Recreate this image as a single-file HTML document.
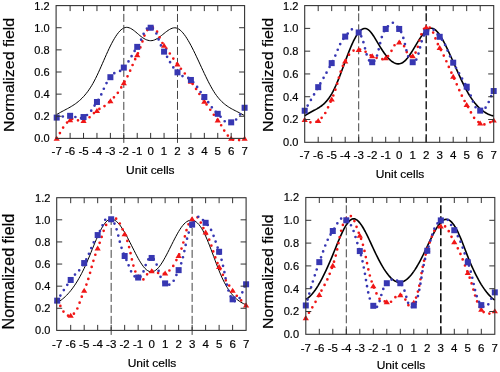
<!DOCTYPE html>
<html><head><meta charset="utf-8"><style>
html,body{margin:0;padding:0;background:#fff;}
svg{display:block;}
text{font-family:"Liberation Sans", Arial, Helvetica, sans-serif;fill:#000;stroke:#000;stroke-width:0.18px;}
</style></head><body>
<svg width="500" height="372" viewBox="0 0 500 372">
<rect width="500" height="372" fill="#fff"/>
<g><polyline points="56.7,114.55 58.04,113.74 59.38,112.97 60.73,112.22 62.07,111.49 63.41,110.78 64.75,110.07 66.09,109.36 67.44,108.64 68.78,107.91 70.12,107.15 71.46,106.35 72.81,105.52 74.15,104.65 75.49,103.72 76.83,102.73 78.17,101.67 79.52,100.53 80.86,99.31 82.2,98.01 83.54,96.6 84.89,95.09 86.23,93.47 87.57,91.73 88.91,89.86 90.25,87.85 91.6,85.71 92.94,83.41 94.28,80.96 95.62,78.36 96.96,75.61 98.31,72.75 99.65,69.8 100.99,66.78 102.33,63.73 103.68,60.66 105.02,57.6 106.36,54.57 107.7,51.61 109.04,48.73 110.39,45.96 111.73,43.32 113.07,40.83 114.41,38.5 115.75,36.34 117.1,34.38 118.44,32.62 119.78,31.09 121.12,29.8 122.47,28.76 123.81,28 125.15,27.52 126.49,27.33 127.83,27.44 129.18,27.79 130.52,28.36 131.86,29.12 133.2,30.02 134.54,31.04 135.89,32.14 137.23,33.29 138.57,34.44 139.91,35.58 141.26,36.65 142.6,37.64 143.94,38.51 145.28,39.26 146.62,39.86 147.97,40.31 149.31,40.6 150.65,40.7 151.99,40.61 153.33,40.33 154.68,39.85 156.02,39.22 157.36,38.46 158.7,37.58 160.05,36.62 161.39,35.59 162.73,34.53 164.07,33.46 165.41,32.39 166.76,31.36 168.1,30.4 169.44,29.54 170.78,28.81 172.12,28.25 173.47,27.9 174.81,27.79 176.15,27.95 177.49,28.41 178.84,29.14 180.18,30.13 181.52,31.37 182.86,32.82 184.2,34.49 185.55,36.35 186.89,38.39 188.23,40.58 189.57,42.92 190.91,45.39 192.26,47.96 193.6,50.63 194.94,53.37 196.28,56.18 197.62,59.04 198.97,61.93 200.31,64.83 201.65,67.74 202.99,70.63 204.34,73.49 205.68,76.31 207.02,79.07 208.36,81.75 209.7,84.34 211.05,86.82 212.39,89.18 213.73,91.4 215.07,93.47 216.42,95.38 217.76,97.13 219.1,98.75 220.44,100.23 221.78,101.6 223.13,102.85 224.47,104 225.81,105.05 227.15,106.03 228.49,106.93 229.84,107.77 231.18,108.55 232.52,109.3 233.86,110.01 235.21,110.7 236.55,111.37 237.89,112.04 239.23,112.72 240.57,113.41 241.92,114.13 243.26,114.89 244.6,115.69" fill="none" stroke="#000" stroke-width="1.0" stroke-linejoin="round"/><line x1="123.81" y1="142.9" x2="123.81" y2="5.6" stroke="#444" stroke-width="1.0" stroke-dasharray="8 3"/><line x1="177.49" y1="142.9" x2="177.49" y2="5.6" stroke="#444" stroke-width="1.0" stroke-dasharray="8 3"/><path d="M56.7,138.4C60.06,133.81 63.41,124.46 70.12,120.03C76.83,115.6 76.83,123.04 83.54,120.69C90.25,118.34 90.25,115.55 96.96,110.62C103.68,105.7 103.68,107.88 110.39,100.99C117.1,94.11 117.1,94.6 123.81,83.07C130.52,71.53 130.52,68.68 137.23,54.85C143.94,41.01 143.94,30.08 150.65,27.73C157.36,25.38 157.36,36.31 164.07,45.44C170.78,54.57 170.78,55.23 177.49,64.25C184.2,73.27 184.2,72.25 190.91,81.52C197.62,90.79 197.62,91.67 204.34,101.33C211.05,110.98 211.05,110.87 217.76,120.14C224.47,129.41 224.47,133.84 231.18,138.4C237.89,142.97 241.24,138.4 244.6,138.4" fill="none" stroke="#f01616" stroke-width="2.7" stroke-linecap="round" stroke-dasharray="0 6.3"/><path d="M56.7,117.59C60.06,117.15 63.41,115.96 70.12,115.82C76.83,115.69 76.83,120.5 83.54,117.04C90.25,113.58 90.25,111.95 96.96,101.99C103.68,92.03 103.68,85.81 110.39,77.2C117.1,68.6 117.1,75.15 123.81,67.57C130.52,59.99 130.52,56.84 137.23,46.88C143.94,36.92 143.94,26.54 150.65,27.73C157.36,28.92 157.36,40.49 164.07,51.64C170.78,62.79 170.78,65.25 177.49,72.33C184.2,79.41 184.2,73.8 190.91,79.97C197.62,86.14 197.62,88.54 204.34,97.01C211.05,105.48 211.05,107.5 217.76,113.83C224.47,120.17 224.47,123.88 231.18,122.35C237.89,120.83 241.24,111.4 244.6,107.75" fill="none" stroke="#3737b2" stroke-width="2.7" stroke-linecap="round" stroke-dasharray="0 6.3"/><path d="M56.7,135.7L59.8,140.7L53.6,140.7Z" fill="#f01616"/><path d="M70.12,117.33L73.22,122.33L67.02,122.33Z" fill="#f01616"/><path d="M83.54,117.99L86.64,122.99L80.44,122.99Z" fill="#f01616"/><path d="M96.96,107.92L100.06,112.92L93.86,112.92Z" fill="#f01616"/><path d="M110.39,98.29L113.49,103.29L107.29,103.29Z" fill="#f01616"/><path d="M123.81,80.37L126.91,85.37L120.71,85.37Z" fill="#f01616"/><path d="M137.23,52.15L140.33,57.15L134.13,57.15Z" fill="#f01616"/><path d="M150.65,25.03L153.75,30.03L147.55,30.03Z" fill="#f01616"/><path d="M164.07,42.74L167.17,47.74L160.97,47.74Z" fill="#f01616"/><path d="M177.49,61.55L180.59,66.55L174.39,66.55Z" fill="#f01616"/><path d="M190.91,78.82L194.01,83.82L187.81,83.82Z" fill="#f01616"/><path d="M204.34,98.63L207.44,103.63L201.24,103.63Z" fill="#f01616"/><path d="M217.76,117.44L220.86,122.44L214.66,122.44Z" fill="#f01616"/><path d="M231.18,135.7L234.28,140.7L228.08,140.7Z" fill="#f01616"/><path d="M244.6,135.7L247.7,140.7L241.5,140.7Z" fill="#f01616"/><rect x="53.7" y="114.59" width="6" height="6" fill="#3737b2"/><rect x="67.12" y="112.82" width="6" height="6" fill="#3737b2"/><rect x="80.54" y="114.04" width="6" height="6" fill="#3737b2"/><rect x="93.96" y="98.99" width="6" height="6" fill="#3737b2"/><rect x="107.39" y="74.2" width="6" height="6" fill="#3737b2"/><rect x="120.81" y="64.57" width="6" height="6" fill="#3737b2"/><rect x="134.23" y="43.88" width="6" height="6" fill="#3737b2"/><rect x="147.65" y="24.73" width="6" height="6" fill="#3737b2"/><rect x="161.07" y="48.64" width="6" height="6" fill="#3737b2"/><rect x="174.49" y="69.33" width="6" height="6" fill="#3737b2"/><rect x="187.91" y="76.97" width="6" height="6" fill="#3737b2"/><rect x="201.34" y="94.01" width="6" height="6" fill="#3737b2"/><rect x="214.76" y="110.83" width="6" height="6" fill="#3737b2"/><rect x="228.18" y="119.35" width="6" height="6" fill="#3737b2"/><rect x="241.6" y="104.75" width="6" height="6" fill="#3737b2"/><path d="M56.1,116.27h5.5M244.6,116.27h-5.5M56.1,94.13h5.5M244.6,94.13h-5.5M56.1,72h5.5M244.6,72h-5.5M56.1,49.87h5.5M244.6,49.87h-5.5M56.1,27.73h5.5M244.6,27.73h-5.5M70.12,138.4v-5.5M70.12,5.6v5.5M83.54,138.4v-5.5M83.54,5.6v5.5M96.96,138.4v-5.5M96.96,5.6v5.5M110.39,138.4v-5.5M110.39,5.6v5.5M123.81,138.4v-5.5M123.81,5.6v5.5M137.23,138.4v-5.5M137.23,5.6v5.5M150.65,138.4v-5.5M150.65,5.6v5.5M164.07,138.4v-5.5M164.07,5.6v5.5M177.49,138.4v-5.5M177.49,5.6v5.5M190.91,138.4v-5.5M190.91,5.6v5.5M204.34,138.4v-5.5M204.34,5.6v5.5M217.76,138.4v-5.5M217.76,5.6v5.5M231.18,138.4v-5.5M231.18,5.6v5.5" stroke="#333" stroke-width="1" fill="none"/><rect x="56.1" y="5.6" width="188.5" height="132.8" fill="none" stroke="#333" stroke-width="1.1"/><text x="49.6" y="142.3" text-anchor="end" font-size="11">0.0</text><text x="49.6" y="120.17" text-anchor="end" font-size="11">0.2</text><text x="49.6" y="98.03" text-anchor="end" font-size="11">0.4</text><text x="49.6" y="75.9" text-anchor="end" font-size="11">0.6</text><text x="49.6" y="53.77" text-anchor="end" font-size="11">0.8</text><text x="49.6" y="31.63" text-anchor="end" font-size="11">1.0</text><text x="49.6" y="9.5" text-anchor="end" font-size="11">1.2</text><text x="56.7" y="155.4" text-anchor="middle" font-size="11.5">-7</text><text x="70.12" y="155.4" text-anchor="middle" font-size="11.5">-6</text><text x="83.54" y="155.4" text-anchor="middle" font-size="11.5">-5</text><text x="96.96" y="155.4" text-anchor="middle" font-size="11.5">-4</text><text x="110.39" y="155.4" text-anchor="middle" font-size="11.5">-3</text><text x="123.81" y="155.4" text-anchor="middle" font-size="11.5">-2</text><text x="137.23" y="155.4" text-anchor="middle" font-size="11.5">-1</text><text x="150.65" y="155.4" text-anchor="middle" font-size="11.5">0</text><text x="164.07" y="155.4" text-anchor="middle" font-size="11.5">1</text><text x="177.49" y="155.4" text-anchor="middle" font-size="11.5">2</text><text x="190.91" y="155.4" text-anchor="middle" font-size="11.5">3</text><text x="204.34" y="155.4" text-anchor="middle" font-size="11.5">4</text><text x="217.76" y="155.4" text-anchor="middle" font-size="11.5">5</text><text x="231.18" y="155.4" text-anchor="middle" font-size="11.5">6</text><text x="244.6" y="155.4" text-anchor="middle" font-size="11.5">7</text><text x="150.3" y="174" text-anchor="middle" font-size="11.4" textLength="48.6" lengthAdjust="spacingAndGlyphs">Unit cells</text><text transform="translate(13.7,74.95) rotate(-90)" text-anchor="middle" font-size="15.3" textLength="114.3" lengthAdjust="spacingAndGlyphs">Normalized field</text></g>
<g><polyline points="304.7,115.93 306.05,114.94 307.4,114.05 308.75,113.22 310.1,112.45 311.45,111.72 312.8,111.02 314.15,110.31 315.5,109.6 316.85,108.85 318.2,108.06 319.55,107.21 320.9,106.27 322.25,105.24 323.6,104.09 324.95,102.81 326.3,101.38 327.65,99.78 329,98 330.35,96.02 331.7,93.82 333.05,91.39 334.4,88.7 335.75,85.78 337.1,82.66 338.45,79.36 339.8,75.93 341.15,72.39 342.5,68.78 343.85,65.14 345.2,61.49 346.55,57.88 347.9,54.33 349.25,50.89 350.6,47.57 351.95,44.43 353.3,41.48 354.65,38.77 356,36.33 357.35,34.19 358.7,32.36 360.05,30.86 361.4,29.71 362.75,28.92 364.1,28.49 365.45,28.46 366.8,28.82 368.15,29.59 369.5,30.75 370.85,32.23 372.2,33.98 373.55,35.94 374.9,38.07 376.25,40.31 377.6,42.6 378.95,44.88 380.3,47.12 381.65,49.26 383,51.3 384.35,53.23 385.7,55.03 387.05,56.69 388.4,58.21 389.75,59.58 391.1,60.77 392.45,61.79 393.8,62.62 395.15,63.25 396.5,63.67 397.85,63.86 399.2,63.83 400.55,63.55 401.9,63.02 403.25,62.22 404.6,61.15 405.95,59.81 407.3,58.25 408.65,56.49 410,54.56 411.35,52.5 412.7,50.34 414.05,48.11 415.4,45.85 416.75,43.6 418.1,41.37 419.45,39.21 420.8,37.15 422.15,35.22 423.5,33.46 424.85,31.89 426.2,30.56 427.55,29.49 428.9,28.72 430.25,28.27 431.6,28.19 432.95,28.5 434.3,29.16 435.65,30.17 437,31.48 438.35,33.07 439.7,34.93 441.05,37.01 442.4,39.29 443.75,41.75 445.1,44.36 446.45,47.1 447.8,49.93 449.15,52.83 450.5,55.78 451.85,58.78 453.2,61.81 454.55,64.86 455.9,67.9 457.25,70.93 458.6,73.93 459.95,76.89 461.3,79.79 462.65,82.62 464,85.37 465.35,88.02 466.7,90.56 468.05,92.97 469.4,95.24 470.75,97.38 472.1,99.38 473.45,101.24 474.8,102.98 476.15,104.6 477.5,106.09 478.85,107.47 480.2,108.74 481.55,109.9 482.9,110.95 484.25,111.89 485.6,112.74 486.95,113.5 488.3,114.16 489.65,114.74 491,115.23 492.35,115.64 493.7,115.98" fill="none" stroke="#000" stroke-width="1.6" stroke-linejoin="round"/><line x1="358.7" y1="142.3" x2="358.7" y2="5.6" stroke="#444" stroke-width="1.0" stroke-dasharray="8 3"/><line x1="426.2" y1="142.3" x2="426.2" y2="5.6" stroke="#111" stroke-width="1.4" stroke-dasharray="8 3"/><path d="M304.7,119.74C308.07,119.97 311.45,125.78 318.2,120.66C324.95,115.53 324.95,114.11 331.7,99.24C338.45,84.37 338.45,73.55 345.2,61.19C351.95,48.83 351.95,51.11 358.7,49.8C365.45,48.49 365.45,53.93 372.2,55.95C378.95,57.97 378.95,61.33 385.7,57.89C392.45,54.44 392.45,42.68 399.2,42.17C405.95,41.65 405.95,59.57 412.7,55.84C419.45,52.11 419.45,29.27 426.2,27.24C432.95,25.22 432.95,35.42 439.7,47.75C446.45,60.08 446.45,62.33 453.2,76.57C459.95,90.81 459.95,93.06 466.7,104.71C473.45,116.36 473.45,119.26 480.2,123.16C486.95,127.06 490.32,121.03 493.7,120.31" fill="none" stroke="#f01616" stroke-width="2.7" stroke-linecap="round" stroke-dasharray="0 6.3"/><path d="M304.7,110.75C308.07,104.85 311.45,99.07 318.2,87.16C324.95,75.26 324.95,75.77 331.7,63.13C338.45,50.48 338.45,44.25 345.2,36.59C351.95,28.92 351.95,26.08 358.7,32.48C365.45,38.89 365.45,63.1 372.2,62.22C378.95,61.33 378.95,37.27 385.7,28.95C392.45,20.64 392.45,20.64 399.2,28.95C405.95,37.27 405.95,61.36 412.7,62.22C419.45,63.07 419.45,38.72 426.2,32.37C432.95,26.02 432.95,29.24 439.7,36.81C446.45,44.39 446.45,50.2 453.2,62.67C459.95,75.15 459.95,74.72 466.7,86.71C473.45,98.7 473.45,109.55 480.2,110.63C486.95,111.71 490.32,95.94 493.7,91.04" fill="none" stroke="#3737b2" stroke-width="2.7" stroke-linecap="round" stroke-dasharray="0 6.3"/><path d="M304.7,117.04L307.8,122.04L301.6,122.04Z" fill="#f01616"/><path d="M318.2,117.96L321.3,122.96L315.1,122.96Z" fill="#f01616"/><path d="M331.7,96.54L334.8,101.54L328.6,101.54Z" fill="#f01616"/><path d="M345.2,58.49L348.3,63.49L342.1,63.49Z" fill="#f01616"/><path d="M358.7,47.1L361.8,52.1L355.6,52.1Z" fill="#f01616"/><path d="M372.2,53.25L375.3,58.25L369.1,58.25Z" fill="#f01616"/><path d="M385.7,55.19L388.8,60.19L382.6,60.19Z" fill="#f01616"/><path d="M399.2,39.47L402.3,44.47L396.1,44.47Z" fill="#f01616"/><path d="M412.7,53.14L415.8,58.14L409.6,58.14Z" fill="#f01616"/><path d="M426.2,24.54L429.3,29.54L423.1,29.54Z" fill="#f01616"/><path d="M439.7,45.05L442.8,50.05L436.6,50.05Z" fill="#f01616"/><path d="M453.2,73.87L456.3,78.87L450.1,78.87Z" fill="#f01616"/><path d="M466.7,102.01L469.8,107.01L463.6,107.01Z" fill="#f01616"/><path d="M480.2,120.46L483.3,125.46L477.1,125.46Z" fill="#f01616"/><path d="M493.7,117.61L496.8,122.61L490.6,122.61Z" fill="#f01616"/><rect x="301.7" y="107.75" width="6" height="6" fill="#3737b2"/><rect x="315.2" y="84.16" width="6" height="6" fill="#3737b2"/><rect x="328.7" y="60.13" width="6" height="6" fill="#3737b2"/><rect x="342.2" y="33.59" width="6" height="6" fill="#3737b2"/><rect x="355.7" y="29.48" width="6" height="6" fill="#3737b2"/><rect x="369.2" y="59.22" width="6" height="6" fill="#3737b2"/><rect x="382.7" y="25.95" width="6" height="6" fill="#3737b2"/><rect x="396.2" y="25.95" width="6" height="6" fill="#3737b2"/><rect x="409.7" y="59.22" width="6" height="6" fill="#3737b2"/><rect x="423.2" y="29.37" width="6" height="6" fill="#3737b2"/><rect x="436.7" y="33.81" width="6" height="6" fill="#3737b2"/><rect x="450.2" y="59.67" width="6" height="6" fill="#3737b2"/><rect x="463.7" y="83.71" width="6" height="6" fill="#3737b2"/><rect x="477.2" y="107.63" width="6" height="6" fill="#3737b2"/><rect x="490.7" y="88.04" width="6" height="6" fill="#3737b2"/><path d="M304.7,119.52h5.5M493.7,119.52h-5.5M304.7,96.73h5.5M493.7,96.73h-5.5M304.7,73.95h5.5M493.7,73.95h-5.5M304.7,51.17h5.5M493.7,51.17h-5.5M304.7,28.38h5.5M493.7,28.38h-5.5M318.2,142.3v-5.5M318.2,5.6v5.5M331.7,142.3v-5.5M331.7,5.6v5.5M345.2,142.3v-5.5M345.2,5.6v5.5M358.7,142.3v-5.5M358.7,5.6v5.5M372.2,142.3v-5.5M372.2,5.6v5.5M385.7,142.3v-5.5M385.7,5.6v5.5M399.2,142.3v-5.5M399.2,5.6v5.5M412.7,142.3v-5.5M412.7,5.6v5.5M426.2,142.3v-5.5M426.2,5.6v5.5M439.7,142.3v-5.5M439.7,5.6v5.5M453.2,142.3v-5.5M453.2,5.6v5.5M466.7,142.3v-5.5M466.7,5.6v5.5M480.2,142.3v-5.5M480.2,5.6v5.5" stroke="#333" stroke-width="1" fill="none"/><rect x="304.7" y="5.6" width="189" height="136.7" fill="none" stroke="#333" stroke-width="1.1"/><text x="298.4" y="146.2" text-anchor="end" font-size="11">0.0</text><text x="298.4" y="123.42" text-anchor="end" font-size="11">0.2</text><text x="298.4" y="100.63" text-anchor="end" font-size="11">0.4</text><text x="298.4" y="77.85" text-anchor="end" font-size="11">0.6</text><text x="298.4" y="55.07" text-anchor="end" font-size="11">0.8</text><text x="298.4" y="32.28" text-anchor="end" font-size="11">1.0</text><text x="298.4" y="9.5" text-anchor="end" font-size="11">1.2</text><text x="304.7" y="159.1" text-anchor="middle" font-size="11.5">-7</text><text x="318.2" y="159.1" text-anchor="middle" font-size="11.5">-6</text><text x="331.7" y="159.1" text-anchor="middle" font-size="11.5">-5</text><text x="345.2" y="159.1" text-anchor="middle" font-size="11.5">-4</text><text x="358.7" y="159.1" text-anchor="middle" font-size="11.5">-3</text><text x="372.2" y="159.1" text-anchor="middle" font-size="11.5">-2</text><text x="385.7" y="159.1" text-anchor="middle" font-size="11.5">-1</text><text x="399.2" y="159.1" text-anchor="middle" font-size="11.5">0</text><text x="412.7" y="159.1" text-anchor="middle" font-size="11.5">1</text><text x="426.2" y="159.1" text-anchor="middle" font-size="11.5">2</text><text x="439.7" y="159.1" text-anchor="middle" font-size="11.5">3</text><text x="453.2" y="159.1" text-anchor="middle" font-size="11.5">4</text><text x="466.7" y="159.1" text-anchor="middle" font-size="11.5">5</text><text x="480.2" y="159.1" text-anchor="middle" font-size="11.5">6</text><text x="493.7" y="159.1" text-anchor="middle" font-size="11.5">7</text><text x="400" y="178.4" text-anchor="middle" font-size="11.4" textLength="48.6" lengthAdjust="spacingAndGlyphs">Unit cells</text><text transform="translate(272.5,74.95) rotate(-90)" text-anchor="middle" font-size="14.6" textLength="114.3" lengthAdjust="spacingAndGlyphs">Normalized field</text></g>
<g><polyline points="57.2,302.62 58.55,301.83 59.9,300.95 61.25,299.99 62.6,298.94 63.95,297.81 65.3,296.58 66.65,295.25 67.99,293.83 69.34,292.31 70.69,290.68 72.04,288.95 73.39,287.12 74.74,285.17 76.09,283.11 77.44,280.94 78.79,278.65 80.14,276.24 81.49,273.71 82.84,271.05 84.19,268.27 85.53,265.35 86.88,262.31 88.23,259.14 89.58,255.89 90.93,252.58 92.28,249.24 93.63,245.92 94.98,242.65 96.33,239.45 97.68,236.37 99.03,233.43 100.38,230.68 101.73,228.14 103.08,225.85 104.42,223.84 105.77,222.14 107.12,220.8 108.47,219.84 109.82,219.27 111.17,219.06 112.52,219.21 113.87,219.67 115.22,220.44 116.57,221.49 117.92,222.8 119.27,224.34 120.62,226.1 121.97,228.04 123.31,230.16 124.66,232.43 126.01,234.83 127.36,237.33 128.71,239.91 130.06,242.55 131.41,245.24 132.76,247.93 134.11,250.62 135.46,253.27 136.81,255.85 138.16,258.34 139.51,260.7 140.86,262.9 142.21,264.92 143.55,266.73 144.9,268.29 146.25,269.59 147.6,270.58 148.95,271.28 150.3,271.68 151.65,271.77 153,271.56 154.35,271.05 155.7,270.23 157.05,269.11 158.4,267.71 159.75,266.05 161.09,264.17 162.44,262.09 163.79,259.83 165.14,257.43 166.49,254.92 167.84,252.32 169.19,249.65 170.54,246.95 171.89,244.24 173.24,241.55 174.59,238.9 175.94,236.34 177.29,233.87 178.64,231.53 179.98,229.35 181.33,227.36 182.68,225.57 184.03,224.03 185.38,222.73 186.73,221.7 188.08,220.93 189.43,220.42 190.78,220.17 192.13,220.2 193.48,220.51 194.83,221.09 196.18,221.95 197.53,223.1 198.88,224.53 200.22,226.26 201.57,228.28 202.92,230.6 204.27,233.21 205.62,236.08 206.97,239.16 208.32,242.43 209.67,245.85 211.02,249.38 212.37,252.98 213.72,256.61 215.07,260.25 216.42,263.85 217.76,267.38 219.11,270.79 220.46,274.06 221.81,277.14 223.16,280.02 224.51,282.7 225.86,285.19 227.21,287.5 228.56,289.62 229.91,291.58 231.26,293.38 232.61,295.03 233.96,296.52 235.31,297.89 236.65,299.12 238,300.23 239.35,301.22 240.7,302.11 242.05,302.89 243.4,303.59 244.75,304.2 246.1,304.74" fill="none" stroke="#000" stroke-width="1.0" stroke-linejoin="round"/><line x1="111.17" y1="334.9" x2="111.17" y2="197.7" stroke="#444" stroke-width="1.0" stroke-dasharray="8 3"/><line x1="192.13" y1="334.9" x2="192.13" y2="197.7" stroke="#444" stroke-width="1.0" stroke-dasharray="8 3"/><path d="M57.2,300.54C60.57,304.27 63.95,317.99 70.69,315.47C77.44,312.96 77.44,307.29 84.19,290.48C90.93,273.67 90.93,265.9 97.68,248.24C104.43,230.57 104.43,223.38 111.17,219.82C117.92,216.25 117.92,219.73 124.66,233.97C131.41,248.21 131.41,267.51 138.16,276.77C144.9,286.03 144.9,271.93 151.65,271.02C158.4,270.1 158.4,276.96 165.14,273.12C171.89,269.28 171.89,269.19 178.64,255.65C185.38,242.1 185.38,224.77 192.13,218.93C198.88,213.1 198.88,220.34 205.62,232.31C212.37,244.28 212.37,252.3 219.11,266.81C225.86,281.33 225.86,280.8 232.61,290.37C239.35,299.93 242.73,301.4 246.1,305.08" fill="none" stroke="#f01616" stroke-width="2.7" stroke-linecap="round" stroke-dasharray="0 6.3"/><path d="M57.2,300.65C60.57,295.48 63.95,289.37 70.69,279.97C77.44,270.57 77.44,274.28 84.19,263.05C90.93,251.83 90.93,246.02 97.68,235.08C104.43,224.13 104.43,214.04 111.17,219.26C117.92,224.49 117.92,241.41 124.66,255.98C131.41,270.55 131.41,277.04 138.16,277.54C144.9,278.04 144.9,256.5 151.65,257.97C158.4,259.43 158.4,280.36 165.14,283.4C171.89,286.44 171.89,284.84 178.64,270.13C185.38,255.42 185.38,236.4 192.13,224.57C198.88,212.74 198.88,216 205.62,222.8C212.37,229.6 212.37,232.64 219.11,251.78C225.86,270.91 225.86,291.2 232.61,299.33C239.35,307.45 242.73,288.05 246.1,284.29" fill="none" stroke="#3737b2" stroke-width="2.7" stroke-linecap="round" stroke-dasharray="0 6.3"/><path d="M57.2,297.84L60.3,302.84L54.1,302.84Z" fill="#f01616"/><path d="M70.69,312.77L73.79,317.77L67.59,317.77Z" fill="#f01616"/><path d="M84.19,287.78L87.29,292.78L81.09,292.78Z" fill="#f01616"/><path d="M97.68,245.54L100.78,250.54L94.58,250.54Z" fill="#f01616"/><path d="M111.17,217.12L114.27,222.12L108.07,222.12Z" fill="#f01616"/><path d="M124.66,231.27L127.76,236.27L121.56,236.27Z" fill="#f01616"/><path d="M138.16,274.07L141.26,279.07L135.06,279.07Z" fill="#f01616"/><path d="M151.65,268.32L154.75,273.32L148.55,273.32Z" fill="#f01616"/><path d="M165.14,270.42L168.24,275.42L162.04,275.42Z" fill="#f01616"/><path d="M178.64,252.95L181.74,257.95L175.54,257.95Z" fill="#f01616"/><path d="M192.13,216.23L195.23,221.23L189.03,221.23Z" fill="#f01616"/><path d="M205.62,229.61L208.72,234.61L202.52,234.61Z" fill="#f01616"/><path d="M219.11,264.11L222.21,269.11L216.01,269.11Z" fill="#f01616"/><path d="M232.61,287.67L235.71,292.67L229.51,292.67Z" fill="#f01616"/><path d="M246.1,302.38L249.2,307.38L243,307.38Z" fill="#f01616"/><rect x="54.2" y="297.65" width="6" height="6" fill="#3737b2"/><rect x="67.69" y="276.97" width="6" height="6" fill="#3737b2"/><rect x="81.19" y="260.05" width="6" height="6" fill="#3737b2"/><rect x="94.68" y="232.08" width="6" height="6" fill="#3737b2"/><rect x="108.17" y="216.26" width="6" height="6" fill="#3737b2"/><rect x="121.66" y="252.98" width="6" height="6" fill="#3737b2"/><rect x="135.16" y="274.54" width="6" height="6" fill="#3737b2"/><rect x="148.65" y="254.97" width="6" height="6" fill="#3737b2"/><rect x="162.14" y="280.4" width="6" height="6" fill="#3737b2"/><rect x="175.64" y="267.13" width="6" height="6" fill="#3737b2"/><rect x="189.13" y="221.57" width="6" height="6" fill="#3737b2"/><rect x="202.62" y="219.8" width="6" height="6" fill="#3737b2"/><rect x="216.11" y="248.78" width="6" height="6" fill="#3737b2"/><rect x="229.61" y="296.33" width="6" height="6" fill="#3737b2"/><rect x="243.1" y="281.29" width="6" height="6" fill="#3737b2"/><path d="M56.7,308.28h5.5M246.1,308.28h-5.5M56.7,286.17h5.5M246.1,286.17h-5.5M56.7,264.05h5.5M246.1,264.05h-5.5M56.7,241.93h5.5M246.1,241.93h-5.5M56.7,219.82h5.5M246.1,219.82h-5.5M70.69,330.4v-5.5M70.69,197.7v5.5M84.19,330.4v-5.5M84.19,197.7v5.5M97.68,330.4v-5.5M97.68,197.7v5.5M111.17,330.4v-5.5M111.17,197.7v5.5M124.66,330.4v-5.5M124.66,197.7v5.5M138.16,330.4v-5.5M138.16,197.7v5.5M151.65,330.4v-5.5M151.65,197.7v5.5M165.14,330.4v-5.5M165.14,197.7v5.5M178.64,330.4v-5.5M178.64,197.7v5.5M192.13,330.4v-5.5M192.13,197.7v5.5M205.62,330.4v-5.5M205.62,197.7v5.5M219.11,330.4v-5.5M219.11,197.7v5.5M232.61,330.4v-5.5M232.61,197.7v5.5" stroke="#333" stroke-width="1" fill="none"/><rect x="56.7" y="197.7" width="189.4" height="132.7" fill="none" stroke="#333" stroke-width="1.1"/><text x="50.4" y="334.3" text-anchor="end" font-size="11">0.0</text><text x="50.4" y="312.18" text-anchor="end" font-size="11">0.2</text><text x="50.4" y="290.07" text-anchor="end" font-size="11">0.4</text><text x="50.4" y="267.95" text-anchor="end" font-size="11">0.6</text><text x="50.4" y="245.83" text-anchor="end" font-size="11">0.8</text><text x="50.4" y="223.72" text-anchor="end" font-size="11">1.0</text><text x="50.4" y="201.6" text-anchor="end" font-size="11">1.2</text><text x="57.2" y="347.6" text-anchor="middle" font-size="11.5">-7</text><text x="70.69" y="347.6" text-anchor="middle" font-size="11.5">-6</text><text x="84.19" y="347.6" text-anchor="middle" font-size="11.5">-5</text><text x="97.68" y="347.6" text-anchor="middle" font-size="11.5">-4</text><text x="111.17" y="347.6" text-anchor="middle" font-size="11.5">-3</text><text x="124.66" y="347.6" text-anchor="middle" font-size="11.5">-2</text><text x="138.16" y="347.6" text-anchor="middle" font-size="11.5">-1</text><text x="151.65" y="347.6" text-anchor="middle" font-size="11.5">0</text><text x="165.14" y="347.6" text-anchor="middle" font-size="11.5">1</text><text x="178.64" y="347.6" text-anchor="middle" font-size="11.5">2</text><text x="192.13" y="347.6" text-anchor="middle" font-size="11.5">3</text><text x="205.62" y="347.6" text-anchor="middle" font-size="11.5">4</text><text x="219.11" y="347.6" text-anchor="middle" font-size="11.5">5</text><text x="232.61" y="347.6" text-anchor="middle" font-size="11.5">6</text><text x="246.1" y="347.6" text-anchor="middle" font-size="11.5">7</text><text x="152" y="366.6" text-anchor="middle" font-size="11.4" textLength="48.6" lengthAdjust="spacingAndGlyphs">Unit cells</text><text transform="translate(13.7,271.65) rotate(-90)" text-anchor="middle" font-size="15.7" textLength="115.7" lengthAdjust="spacingAndGlyphs">Normalized field</text></g>
<g><polyline points="305.8,299.36 307.15,298.56 308.5,297.57 309.85,296.39 311.2,295.04 312.55,293.51 313.9,291.81 315.25,289.96 316.6,287.95 317.95,285.81 319.3,283.53 320.65,281.11 322,278.58 323.35,275.94 324.7,273.18 326.05,270.33 327.4,267.39 328.75,264.36 330.1,261.25 331.45,258.08 332.8,254.84 334.15,251.54 335.5,248.22 336.85,244.91 338.2,241.64 339.55,238.45 340.9,235.38 342.25,232.45 343.6,229.72 344.95,227.21 346.3,224.95 347.65,223 349,221.37 350.35,220.11 351.7,219.25 353.05,218.83 354.4,218.86 355.75,219.31 357.1,220.15 358.45,221.35 359.8,222.87 361.15,224.67 362.5,226.74 363.85,229.02 365.2,231.5 366.55,234.14 367.9,236.9 369.25,239.75 370.6,242.66 371.95,245.59 373.3,248.52 374.65,251.41 376,254.23 377.35,256.97 378.7,259.61 380.05,262.16 381.4,264.59 382.75,266.9 384.1,269.09 385.45,271.14 386.8,273.05 388.15,274.81 389.5,276.4 390.85,277.83 392.2,279.07 393.55,280.13 394.9,280.99 396.25,281.65 397.6,282.1 398.95,282.32 400.3,282.32 401.65,282.09 403,281.65 404.35,281 405.7,280.16 407.05,279.12 408.4,277.91 409.75,276.51 411.1,274.96 412.45,273.24 413.8,271.37 415.15,269.36 416.5,267.22 417.85,264.95 419.2,262.56 420.55,260.06 421.9,257.45 423.25,254.75 424.6,251.97 425.95,249.13 427.3,246.27 428.65,243.4 430,240.56 431.35,237.78 432.7,235.09 434.05,232.51 435.4,230.08 436.75,227.82 438.1,225.76 439.45,223.94 440.8,222.37 442.15,221.1 443.5,220.14 444.85,219.54 446.2,219.31 447.55,219.46 448.9,219.99 450.25,220.88 451.6,222.11 452.95,223.68 454.3,225.56 455.65,227.74 457,230.21 458.35,232.96 459.7,235.96 461.05,239.17 462.4,242.55 463.75,246.04 465.1,249.57 466.45,253.11 467.8,256.59 469.15,259.95 470.5,263.19 471.85,266.31 473.2,269.29 474.55,272.15 475.9,274.88 477.25,277.49 478.6,279.97 479.95,282.32 481.3,284.56 482.65,286.67 484,288.65 485.35,290.51 486.7,292.26 488.05,293.87 489.4,295.37 490.75,296.75 492.1,298.01 493.45,299.15 494.8,300.17" fill="none" stroke="#000" stroke-width="1.6" stroke-linejoin="round"/><line x1="346.3" y1="334.3" x2="346.3" y2="197.5" stroke="#444" stroke-width="1.0" stroke-dasharray="8 3"/><line x1="440.8" y1="334.3" x2="440.8" y2="197.5" stroke="#111" stroke-width="1.6" stroke-dasharray="8 3"/><path d="M305.8,317.88C309.18,312.1 312.55,307.88 319.3,294.74C326.05,281.6 326.05,284.28 332.8,265.33C339.55,246.38 339.55,226.4 346.3,218.93C353.05,211.47 353.05,218.7 359.8,235.46C366.55,252.22 366.55,269.32 373.3,285.96C380.05,302.61 380.05,299.79 386.8,302.04C393.55,304.29 393.55,294.88 400.3,294.97C407.05,295.06 407.05,313.78 413.8,302.38C420.55,290.98 420.55,268.41 427.3,249.37C434.05,230.33 434.05,228.08 440.8,226.23C447.55,224.38 447.55,230.36 454.3,241.96C461.05,253.56 461.05,255.78 467.8,272.63C474.55,289.47 474.55,299.73 481.3,309.33C488.05,318.94 491.43,310.62 494.8,311.04" fill="none" stroke="#f01616" stroke-width="2.7" stroke-linecap="round" stroke-dasharray="0 6.3"/><path d="M305.8,305.46C309.18,294.63 312.55,280.75 319.3,262.14C326.05,243.53 326.05,241.48 332.8,231.02C339.55,220.56 339.55,215.28 346.3,220.3C353.05,225.32 353.05,229.7 359.8,251.08C366.55,272.45 366.55,297.76 373.3,305.8C380.05,313.84 380.05,288.87 386.8,283.23C393.55,277.59 393.55,277.67 400.3,283.23C407.05,288.79 407.05,313.58 413.8,305.46C420.55,297.34 420.55,272 427.3,250.74C434.05,229.48 434.05,225.54 440.8,220.41C447.55,215.28 447.55,219.76 454.3,230.22C461.05,240.68 461.05,243.53 467.8,262.25C474.55,280.98 474.55,297.59 481.3,305.12C488.05,312.64 491.43,295.54 494.8,292.35" fill="none" stroke="#3737b2" stroke-width="2.7" stroke-linecap="round" stroke-dasharray="0 6.3"/><path d="M305.8,315.18L308.9,320.18L302.7,320.18Z" fill="#f01616"/><path d="M319.3,292.04L322.4,297.04L316.2,297.04Z" fill="#f01616"/><path d="M332.8,262.63L335.9,267.63L329.7,267.63Z" fill="#f01616"/><path d="M346.3,216.23L349.4,221.23L343.2,221.23Z" fill="#f01616"/><path d="M359.8,232.76L362.9,237.76L356.7,237.76Z" fill="#f01616"/><path d="M373.3,283.26L376.4,288.26L370.2,288.26Z" fill="#f01616"/><path d="M386.8,299.34L389.9,304.34L383.7,304.34Z" fill="#f01616"/><path d="M400.3,292.27L403.4,297.27L397.2,297.27Z" fill="#f01616"/><path d="M413.8,299.68L416.9,304.68L410.7,304.68Z" fill="#f01616"/><path d="M427.3,246.67L430.4,251.67L424.2,251.67Z" fill="#f01616"/><path d="M440.8,223.53L443.9,228.53L437.7,228.53Z" fill="#f01616"/><path d="M454.3,239.26L457.4,244.26L451.2,244.26Z" fill="#f01616"/><path d="M467.8,269.93L470.9,274.93L464.7,274.93Z" fill="#f01616"/><path d="M481.3,306.63L484.4,311.63L478.2,311.63Z" fill="#f01616"/><path d="M494.8,308.34L497.9,313.34L491.7,313.34Z" fill="#f01616"/><rect x="302.8" y="302.46" width="6" height="6" fill="#3737b2"/><rect x="316.3" y="259.14" width="6" height="6" fill="#3737b2"/><rect x="329.8" y="228.02" width="6" height="6" fill="#3737b2"/><rect x="343.3" y="217.3" width="6" height="6" fill="#3737b2"/><rect x="356.8" y="248.08" width="6" height="6" fill="#3737b2"/><rect x="370.3" y="302.8" width="6" height="6" fill="#3737b2"/><rect x="383.8" y="280.23" width="6" height="6" fill="#3737b2"/><rect x="397.3" y="280.23" width="6" height="6" fill="#3737b2"/><rect x="410.8" y="302.46" width="6" height="6" fill="#3737b2"/><rect x="424.3" y="247.74" width="6" height="6" fill="#3737b2"/><rect x="437.8" y="217.41" width="6" height="6" fill="#3737b2"/><rect x="451.3" y="227.22" width="6" height="6" fill="#3737b2"/><rect x="464.8" y="259.25" width="6" height="6" fill="#3737b2"/><rect x="478.3" y="302.12" width="6" height="6" fill="#3737b2"/><rect x="491.8" y="289.35" width="6" height="6" fill="#3737b2"/><path d="M305.8,311.5h5.5M494.8,311.5h-5.5M305.8,288.7h5.5M494.8,288.7h-5.5M305.8,265.9h5.5M494.8,265.9h-5.5M305.8,243.1h5.5M494.8,243.1h-5.5M305.8,220.3h5.5M494.8,220.3h-5.5M319.3,334.3v-5.5M319.3,197.5v5.5M332.8,334.3v-5.5M332.8,197.5v5.5M346.3,334.3v-5.5M346.3,197.5v5.5M359.8,334.3v-5.5M359.8,197.5v5.5M373.3,334.3v-5.5M373.3,197.5v5.5M386.8,334.3v-5.5M386.8,197.5v5.5M400.3,334.3v-5.5M400.3,197.5v5.5M413.8,334.3v-5.5M413.8,197.5v5.5M427.3,334.3v-5.5M427.3,197.5v5.5M440.8,334.3v-5.5M440.8,197.5v5.5M454.3,334.3v-5.5M454.3,197.5v5.5M467.8,334.3v-5.5M467.8,197.5v5.5M481.3,334.3v-5.5M481.3,197.5v5.5" stroke="#333" stroke-width="1" fill="none"/><rect x="305.8" y="197.5" width="189" height="136.8" fill="none" stroke="#333" stroke-width="1.1"/><text x="299" y="338.2" text-anchor="end" font-size="11">0.0</text><text x="299" y="315.4" text-anchor="end" font-size="11">0.2</text><text x="299" y="292.6" text-anchor="end" font-size="11">0.4</text><text x="299" y="269.8" text-anchor="end" font-size="11">0.6</text><text x="299" y="247" text-anchor="end" font-size="11">0.8</text><text x="299" y="224.2" text-anchor="end" font-size="11">1.0</text><text x="299" y="201.4" text-anchor="end" font-size="11">1.2</text><text x="305.8" y="351.5" text-anchor="middle" font-size="11.5">-7</text><text x="319.3" y="351.5" text-anchor="middle" font-size="11.5">-6</text><text x="332.8" y="351.5" text-anchor="middle" font-size="11.5">-5</text><text x="346.3" y="351.5" text-anchor="middle" font-size="11.5">-4</text><text x="359.8" y="351.5" text-anchor="middle" font-size="11.5">-3</text><text x="373.3" y="351.5" text-anchor="middle" font-size="11.5">-2</text><text x="386.8" y="351.5" text-anchor="middle" font-size="11.5">-1</text><text x="400.3" y="351.5" text-anchor="middle" font-size="11.5">0</text><text x="413.8" y="351.5" text-anchor="middle" font-size="11.5">1</text><text x="427.3" y="351.5" text-anchor="middle" font-size="11.5">2</text><text x="440.8" y="351.5" text-anchor="middle" font-size="11.5">3</text><text x="454.3" y="351.5" text-anchor="middle" font-size="11.5">4</text><text x="467.8" y="351.5" text-anchor="middle" font-size="11.5">5</text><text x="481.3" y="351.5" text-anchor="middle" font-size="11.5">6</text><text x="494.8" y="351.5" text-anchor="middle" font-size="11.5">7</text><text x="401" y="369" text-anchor="middle" font-size="11.4" textLength="48.6" lengthAdjust="spacingAndGlyphs">Unit cells</text><text transform="translate(272.5,271.7) rotate(-90)" text-anchor="middle" font-size="14.95" textLength="114.6" lengthAdjust="spacingAndGlyphs">Normalized field</text></g>
</svg>
</body></html>
